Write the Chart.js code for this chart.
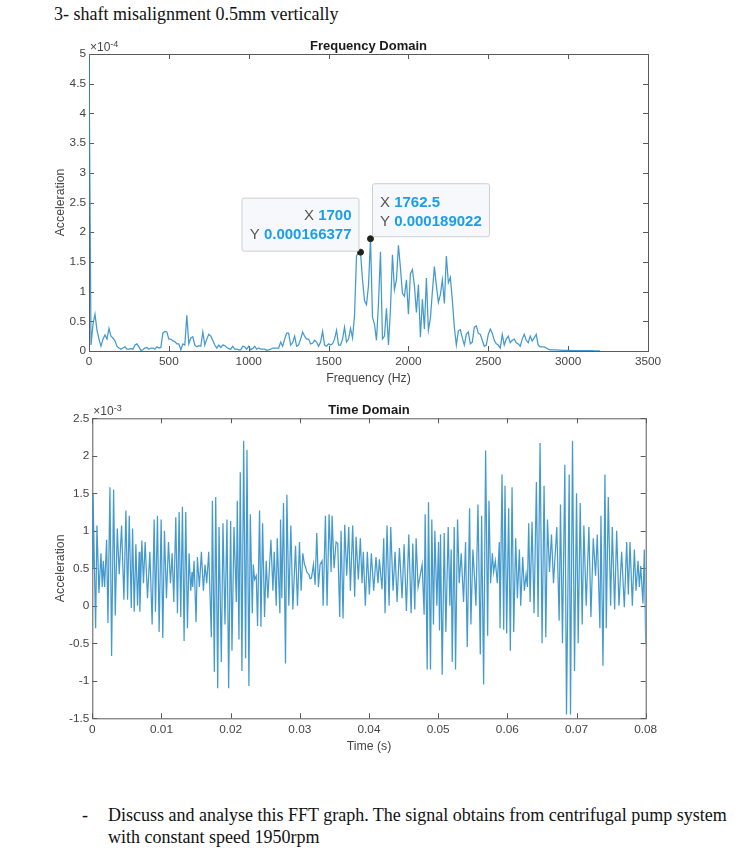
<!DOCTYPE html>
<html><head><meta charset="utf-8">
<script src="https://cdn.jsdelivr.net/npm/chart.js@4"></script>
<style>
html,body{margin:0;padding:0;background:#fff;width:745px;height:858px;overflow:hidden}
canvas{position:absolute;left:0}
.t{position:absolute;font-family:"Liberation Serif",serif;font-size:18px;color:#111;white-space:nowrap}
</style></head><body>
<div class="t" style="left:54px;top:4px">3- shaft misalignment 0.5mm vertically</div>
<canvas id="c1" width="745" height="395" style="top:0;width:745px;height:395px"></canvas>
<canvas id="c2" width="745" height="365" style="top:395px;width:745px;height:365px"></canvas>
<div class="t" style="left:82px;top:805px">-</div>
<div class="t" style="left:108px;top:805px">Discuss and analyse this FFT graph. The signal obtains from centrifugal pump system</div>
<div class="t" style="left:108px;top:827px">with constant speed 1950rpm</div>
<script>
const freqHz = [
0,12.5,25,37.5,50,62.5,75,87.5,100,112.5,
125,137.5,150,162.5,175,187.5,200,212.5,225,237.5,
250,262.5,275,287.5,300,312.5,325,337.5,350,362.5,
375,387.5,400,412.5,425,437.5,450,462.5,475,487.5,
500,512.5,525,537.5,550,562.5,575,587.5,600,612.5,
625,637.5,650,662.5,675,687.5,700,712.5,725,737.5,
750,762.5,775,787.5,800,812.5,825,837.5,850,862.5,
875,887.5,900,912.5,925,937.5,950,962.5,975,987.5,
1000,1012.5,1025,1037.5,1050,1062.5,1075,1087.5,1100,1112.5,
1125,1137.5,1150,1162.5,1175,1187.5,1200,1212.5,1225,1237.5,
1250,1262.5,1275,1287.5,1300,1312.5,1325,1337.5,1350,1362.5,
1375,1387.5,1400,1412.5,1425,1437.5,1450,1462.5,1475,1487.5,
1500,1512.5,1525,1537.5,1550,1562.5,1575,1587.5,1600,1612.5,
1625,1637.5,1650,1662.5,1675,1687.5,1700,1712.5,1725,1737.5,
1750,1762.5,1775,1787.5,1800,1812.5,1825,1837.5,1850,1862.5,
1875,1887.5,1900,1912.5,1925,1937.5,1950,1962.5,1975,1987.5,
2000,2012.5,2025,2037.5,2050,2062.5,2075,2087.5,2100,2112.5,
2125,2137.5,2150,2162.5,2175,2187.5,2200,2212.5,2225,2237.5,
2250,2262.5,2275,2287.5,2300,2312.5,2325,2337.5,2350,2362.5,
2375,2387.5,2400,2412.5,2425,2437.5,2450,2462.5,2475,2487.5,
2500,2512.5,2525,2537.5,2550,2562.5,2575,2587.5,2600,2612.5,
2625,2637.5,2650,2662.5,2675,2687.5,2700,2712.5,2725,2737.5,
2750,2762.5,2775,2787.5,2800,2812.5,2825,2837.5,2850,2862.5,
2875,2887.5,2900,2912.5,2925,2937.5,2950,2962.5,2975,2987.5,
3000,3012.5,3025,3037.5,3050,3062.5,3075,3087.5,3100,3112.5,
3125,3137.5,3150,3162.5,3175,3187.5,3200];
const freqAccel = [
5.0,.1,.45,.62,.35,.2,.08,.2,.27,.2,
.38,.25,.22,.17,.08,.05,.03,.05,.07,.03,
.03,.04,.03,.1,.12,.07,.01,.02,.05,.06,
.03,.05,.05,.03,.07,.05,.06,.3,.33,.32,
.2,.2,.17,.16,.12,.12,.02,.12,.1,.6,
.12,.22,.24,.1,.07,.09,.08,.32,.1,.2,
.28,.25,.18,.1,.05,.1,.06,.1,.09,.06,
.04,.03,.08,.03,.03,.02,.02,.08,.07,.03,
.08,.02,.04,.08,.03,.05,.03,.03,.03,.01,
.02,.03,.05,.05,.05,.05,.15,.08,.2,.3,
.3,.1,.14,.25,.08,.1,.2,.32,.25,.2,
.2,.12,.13,.18,.15,.08,.15,.33,.1,.08,
.12,.1,.12,.2,.35,.1,.1,.2,.4,.15,
.2,.38,.22,.6,1.6,1.66,1.66377,1.2,.85,.78,
1.1,1.89022,.57,.45,.18,.8,1.67,.2,.25,.72,
.1,.7,1.62,1.03,1.2,1.78,1.4,.97,.92,1.2,
.62,1.3,1.37,1.1,.65,1.12,.23,.87,.37,1.23,
.35,.55,1.0,1.42,1.1,.82,.95,1.2,.8,1.6,
1.15,1.24,.85,.4,.1,.34,.36,.22,.1,.28,
.32,.12,.15,.4,.42,.3,.28,.18,.08,.1,
.28,.37,.3,.18,.12,.1,.05,.28,.1,.2,
.25,.14,.18,.2,.14,.12,.08,.2,.28,.18,
.14,.25,.17,.22,.28,.1,.07,.07,.07,.05,
.03,.02,.02,.02,.02,.015,.015,.01,.01,.01,
.01,.01,.008,.008,.008,.006,.006,.006,.005,.005,
.005,.005,.005,.004,.004,.003,.003];
const tipFreq = [1700, 1762.5];
const tipAccel = [1.66377, 1.89022];
const tipXText = ["1700", "1762.5"];
const tipYText = ["0.000166377", "0.000189022"];
const timeMs = [
0,
0.10,.48,.67,.96,1.25,1.44,1.59,1.78,2.07,2.26,
2.55,2.79,3.08,3.32,3.61,3.89,4.23,4.57,4.86,5.10,
5.34,5.63,5.82,6.06,6.30,6.54,6.78,6.88,7.16,7.40,
7.64,7.98,8.32,8.65,8.94,9.13,9.42,9.66,9.95,10.19,
10.43,10.72,11.01,11.30,11.54,11.78,12.07,12.31,12.55,12.79,
13.03,13.27,13.51,13.75,13.99,14.23,14.42,14.52,14.71,15.0,
15.19,15.48,15.77,16.06,16.30,16.54,16.83,17.21,17.36,17.64,
17.84,18.13,18.32,18.65,18.89,19.18,19.47,19.71,20.0,20.19,
20.48,20.82,20.96,21.20,21.39,21.63,21.88,22.16,22.36,22.64,
22.84,23.13,23.27,23.46,23.70,23.89,24.18,24.38,24.62,24.90,
25.14,25.38,25.82,26.11,26.30,26.59,26.73,27.12,27.21,27.40,
27.64,27.93,28.13,28.41,28.70,28.99,29.38,29.66,29.95,30.19,
30.43,30.67,30.82,31.01,31.30,31.49,31.68,31.97,32.21,32.45,
32.69,32.93,33.22,33.37,33.70,33.94,34.23,34.52,34.66,34.95,
35.24,35.48,35.77,35.96,36.25,36.49,36.78,37.07,37.31,37.64,
37.93,38.13,38.46,38.75,38.99,39.18,39.47,39.76,40.05,40.34,
40.68,41.01,41.30,41.50,41.88,42.13,42.32,42.61,42.90,43.14,
43.48,43.77,44.06,44.40,44.78,45.07,45.41,45.75,46.09,46.33,
46.62,46.81,47.10,47.68,47.97,48.12,48.41,48.60,48.89,49.08,
49.32,49.52,49.81,50.05,50.19,50.34,50.58,50.87,51.11,51.45,
51.69,51.88,52.03,52.32,52.51,52.80,53.04,53.33,53.67,53.96,
54.20,54.54,54.73,55.02,55.27,55.46,55.75,56.09,56.28,56.57,
56.86,57.15,57.34,57.58,57.83,58.02,58.26,58.55,58.84,58.94,
59.23,59.47,59.66,59.90,60.19,60.43,60.68,60.92,61.21,61.45,
61.74,61.93,62.22,62.46,62.71,62.90,63.09,63.29,63.57,63.86,
64.20,64.44,64.73,65.02,65.31,65.56,65.80,66.09,66.38,66.67,
67.15,67.49,67.68,67.97,68.31,68.55,68.94,69.13,69.42,69.71,
70.0,70.24,70.53,70.82,71.06,71.40,71.79,72.08,72.42,72.75,
73.0,73.38,73.53,73.82,74.11,74.30,74.59,74.93,75.17,75.51,
75.80,76.14,76.52,76.91,77.25,77.49,77.73,78.07,78.36,78.60,
78.89,79.08,79.28,79.6,79.8,80];
const timeAccel = [
.5,
1.5,-.3,1.07,.17,.7,.25,.6,.25,.88,-.23,
1.58,-.67,1.55,-.13,1.03,.42,1.07,.08,1.27,.08,
1.2,-.03,1.03,-.08,.82,0,.72,-.08,.87,.3,
.85,.1,.72,-.25,1.15,-.08,1.2,-.35,1.15,-.43,
1.0,.1,.85,.3,.7,.05,1.18,-.1,1.25,-.15,
1.32,-.47,1.25,-.3,.7,.2,.45,.25,.6,-.22,
.65,.25,.72,.2,.55,.3,.72,-.42,1.4,-.88,
1.45,-1.1,1.05,-.75,1.1,-.25,1.15,-1.1,1.13,-.6,
1.05,.05,1.4,-.45,1.78,-.87,2.2,-.7,2.08,-1.07,
1.22,-.1,.55,.35,.4,-.27,1.27,-.28,1.1,-.15,
.6,.1,.88,.2,.72,0,.9,-.1,1.15,.1,
1.37,-.77,1.48,0,1.07,-.05,.8,0,.85,.2,
.7,.55,.52,.45,.42,.36,.37,.55,.28,.97,
.25,.55,.6,0,1.2,0,1.22,.45,1.2,.5,
.85,.83,-.15,1.0,-.17,1.08,.4,1.05,.2,1.07,
.12,.92,.35,.9,.3,.72,0,.72,.15,.7,
.2,.65,.3,.62,.22,.9,-.1,1.07,0,1.05,
.2,.72,.05,.77,.1,.82,-.07,.95,-.1,.83,
-.05,.9,.25,.55,-.12,1.22,-.85,1.38,-.85,1.15,
-.25,1.0,0,.85,-.33,.95,-.92,.97,-.35,1.05,
0,.75,-.75,1.05,-.85,1.15,.3,.7,.05,.85,
-.55,1.3,-.25,.75,.35,0,1.35,-.65,1.2,-1.05,
2.07,-.4,1.4,.3,.7,.45,.6,.3,.85,-.3,
1.75,-.32,1.6,-.37,1.3,-.6,1.58,-.35,.9,.1,
.75,0,.65,.2,.42,.25,1.1,.05,1.12,-.1,
1.65,-.15,2.17,-.5,1.6,-.42,1.15,.45,.95,.3,
1.05,-.2,1.35,-.5,1.88,-1.45,1.75,-1.45,2.2,-.87,
1.5,-.5,1.37,-.25,1.07,0,1.05,-.15,.9,.4,
.95,-.3,1.2,-.8,1.75,-.3,1.45,0,1.05,-.05,
1.0,0,.72,-.02,.85,.15,.85,0,.75,.2,
.6,.25,.53,.03,.75,-.5];

const LINE = 'rgba(48,142,200,0.9)', AX = '#5a5a5a', TXT = '#444';
const SANS = '"Liberation Sans", Arial, sans-serif';

const frame = {
  id: 'frame',
  beforeDatasetsDraw(ch) {
    const c = ch.ctx, a = ch.chartArea, xs = ch.scales.x, ys = ch.scales.y;
    c.save();
    c.strokeStyle = AX; c.lineWidth = 1;
    c.strokeRect(a.left + .5, a.top + .5, a.right - a.left, a.bottom - a.top);
    c.beginPath();
    xs.ticks.forEach(t => { const p = Math.round(xs.getPixelForValue(t.value)) + .5;
      c.moveTo(p, a.bottom); c.lineTo(p, a.bottom - 5);
      c.moveTo(p, a.top); c.lineTo(p, a.top + 5); });
    ys.ticks.forEach(t => { const p = Math.round(ys.getPixelForValue(t.value)) + .5;
      c.moveTo(a.left, p); c.lineTo(a.left + 5, p);
      c.moveTo(a.right, p); c.lineTo(a.right - 5, p); });
    c.stroke();
    c.restore();
  },
  afterDraw(ch, args, o) {
    const c = ch.ctx, a = ch.chartArea;
    c.save();
    c.fillStyle = '#1a1a1a'; c.font = 'bold 13px ' + SANS; c.textAlign = 'center'; c.textBaseline = 'alphabetic';
    c.fillText(o.title, (a.left + a.right) / 2, a.top - 4);
    c.fillStyle = TXT; c.textAlign = 'left';
    c.font = '12px ' + SANS;
    c.fillText('×10', a.left + 1, a.top - 3);
    const w = c.measureText('×10').width;
    c.font = '9px ' + SANS;
    c.fillText(o.exp, a.left + 1 + w, a.top - 7);
    c.restore();
  }
};

const tips = {
  id: 'tips',
  afterDatasetsDraw(ch) {
    const c = ch.ctx, xs = ch.scales.x, ys = ch.scales.y;
    if (!ch.options.plugins.tips.on) return;
    const draw = (i, dl, dt, w, h, rightAlign, tx, ty1, ty2) => {
      const mx = xs.getPixelForValue(tipFreq[i]), my = ys.getPixelForValue(tipAccel[i]);
      const l = mx + dl, t = my + dt;
      c.save();
      c.fillStyle = '#f7f8fc'; c.strokeStyle = '#cfcfd2'; c.lineWidth = 1;
      c.beginPath(); c.roundRect(l, t, w, h, 2); c.fill(); c.stroke();
      c.textBaseline = 'middle'; c.textAlign = 'left';
      const row = (lab, val, y) => {
        c.font = '15px ' + SANS; const lw = c.measureText(lab + ' ').width;
        c.font = 'bold 15px ' + SANS; const vw = c.measureText(val).width;
        const x0 = rightAlign ? l + tx - lw - vw : l + tx;
        c.fillStyle = '#555'; c.font = '15px ' + SANS; c.fillText(lab, x0, t + y);
        c.fillStyle = '#1a9ee8'; c.font = 'bold 15px ' + SANS; c.fillText(val, x0 + lw, t + y);
      };
      row('X', tipXText[i], ty1); row('Y', tipYText[i], ty2);
      c.restore();
    };
    draw(0, -118.5, -54, 117, 53, true, 109.5, 17.5, 37);
    draw(1, 2, -55, 117, 53, false, 7.5, 19, 38);
  }
};

function makeChart(id, H, L, T, R, B, xH, yTitlePad, series, extra, xOpt, yOpt, xTitle, title, exp, tipsOn) {
  const yW = 40;
  return new Chart(document.getElementById(id), {
    type: 'line',
    data: { datasets: [{ data: series, borderColor: LINE, borderWidth: 1.25, pointRadius: 0, tension: 0, order: 2 }].concat(extra) },
    options: {
      responsive: false, animation: false, devicePixelRatio: 1, parsing: false, normalized: false,
      layout: { autoPadding: false, padding: { left: L - yW, top: T, right: 745 - R, bottom: H - B - xH } },
      plugins: { legend: { display: false }, tooltip: { enabled: false }, title: { display: false },
        frame: { title, exp }, tips: { on: tipsOn } },
      scales: {
        x: Object.assign({ type: 'linear', afterFit: s => { s.height = xH; },
          grid: { display: false, tickLength: 0 }, border: { display: false },
          title: { display: true, text: xTitle, color: TXT, font: { family: SANS, size: 12.3 }, padding: { top: 0, bottom: 0 } } }, xOpt),
        y: Object.assign({ type: 'linear', afterFit: s => { s.width = yW; },
          grid: { display: false, tickLength: 0 }, border: { display: false },
          title: { display: true, text: 'Acceleration', color: TXT, font: { family: SANS, size: 12.3 }, padding: { top: yTitlePad, bottom: 0 } } }, yOpt)
      }
    },
    plugins: [frame, tips]
  });
}
const tk = { color: TXT, font: { family: SANS, size: 11.8 }, maxRotation: 0, autoSkip: false };

makeChart('c1', 395, 89, 54, 648, 351, 35, 4,
  freqHz.map((f, i) => ({ x: f, y: freqAccel[i] })),
  [{ data: tipFreq.map((f, i) => ({ x: f, y: tipAccel[i] })), showLine: false, pointRadius: 3, pointBackgroundColor: '#22241a', pointBorderColor: '#22241a', order: 1 }],
  { min: 0, max: 3500, ticks: Object.assign({}, tk, { stepSize: 500, padding: 4, callback: v => String(v) }) },
  { min: 0, max: 5, ticks: Object.assign({}, tk, { stepSize: 0.5, padding: 3, callback: v => String(+v.toFixed(1)) }) },
  'Frequency (Hz)', 'Frequency Domain', '-4', true);

makeChart('c2', 365, 92.3, 23.3, 645.7, 323.3, 36, 1,
  timeMs.map((t, i) => ({ x: t, y: timeAccel[i] })),
  [],
  { min: 0, max: 80, ticks: Object.assign({}, tk, { stepSize: 10, padding: 4, callback: v => String(v / 1000) }) },
  { min: -1.5, max: 2.5, ticks: Object.assign({}, tk, { stepSize: 0.5, padding: 3, callback: v => String(+v.toFixed(1)) }) },
  'Time (s)', 'Time Domain', '-3', false);
</script>
</body></html>
